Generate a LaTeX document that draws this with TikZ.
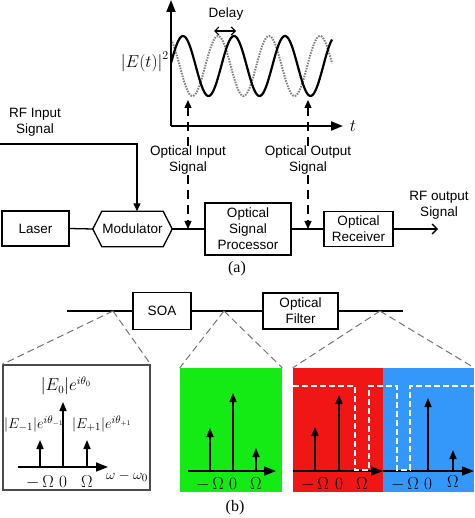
\documentclass[tikz,border=0pt]{standalone}
\usepackage{fontspec}
\usetikzlibrary{arrows.meta}
\newfontfamily\arialf{Liberation Sans}
\newfontfamily\timesf{Liberation Serif}
\definecolor{gfill}{RGB}{20,235,20}
\definecolor{rfill}{RGB}{240,22,22}
\definecolor{bfill}{RGB}{52,152,250}
\begin{document}
\begin{tikzpicture}[x=1pt,y=-1pt,
  lab/.style={font=\arialf\fontsize{13.5}{16}\selectfont, align=center, inner sep=0},
  blk/.style={draw, line width=1.3pt, align=center, inner sep=0, font=\arialf\fontsize{13.5}{16}\selectfont},
  wire/.style={line width=1.3pt},
  tipa/.style={-{Triangle[length=8pt,width=7pt]}},
  dsh/.style={line width=1.3pt, dash pattern=on 9pt off 6pt, -{Triangle[length=8pt,width=7pt]}},
  zoomln/.style={black!55, line width=1pt, dash pattern=on 7pt off 4pt},
  axisln/.style={line width=1.8pt, -{Triangle[length=12pt,width=9pt]}},
  spec/.style={line width=1.6pt, -{Triangle[length=9pt,width=7pt]}},
  mlab/.style={font=\fontsize{16}{18}\selectfont, inner sep=0},
  elab/.style={font=\fontsize{15}{17}\selectfont, inner sep=0},
  captxt/.style={font=\timesf\fontsize{16}{18}\selectfont, inner sep=0}]
\useasboundingbox (0,0) rectangle (474,518);

% ---------- (a) top graph ----------
\coordinate (org) at (171,126);
\coordinate (ytop) at (171,0);
\coordinate (xend) at (343,126);
\draw[black!50, line width=2pt, dash pattern=on 1.5pt off 1.2pt, domain=171:332, samples=160]
  plot (\x, {66-30*cos(7.0588*(\x-218))});
\draw[line width=2.2pt, domain=171:332, samples=160]
  plot (\x, {66-30*cos(7.0588*(\x-183))});
\draw[axisln] (org) -- (ytop);
\draw[axisln] (org) -- (xend);
\node[inner sep=0, font=\fontsize{16}{18}\selectfont] (tl) at (353,126) {$t$};
\node[inner sep=0, font=\fontsize{17}{19}\selectfont, anchor=east] (el) at (169,62) {$\left|E(t)\right|^2$};
\node[lab] (delay) at (226,14) {Delay};
\coordinate (d1) at (214,31);
\coordinate (d2) at (236,31);
\draw[line width=1.2pt, {Straight Barb[length=4pt,width=8pt]}-{Straight Barb[length=4pt,width=8pt]}] (d1) -- (d2);

% ---------- (a) block diagram ----------
\node[blk, minimum width=67pt, minimum height=35pt] (laser) at (35.5,228.5) {Laser};
\node[inner sep=0, minimum width=79pt, minimum height=35pt, font=\arialf\fontsize{13.5}{16}\selectfont] (mod) at (132.5,229) {Modulator};
\draw[line width=1.3pt] (mod.west) -- ([xshift=9pt]mod.north west) -- ([xshift=-9pt]mod.north east) -- (mod.east) -- ([xshift=-9pt]mod.south east) -- ([xshift=9pt]mod.south west) -- cycle;
\node[blk, minimum width=86pt, minimum height=52pt] (osp) at (248,229) {Optical\\Signal\\Processor};
\node[blk, minimum width=69pt, minimum height=35pt] (rec) at (358.5,229) {Optical\\Receiver};
\coordinate (rfout) at (438,229);
\coordinate (rfin) at (0,144);
\node[lab] (rfint) at (35,122) {RF Input\\Signal};
\node[lab] (rfoutt) at (439,205) {RF output\\Signal};
\node[lab] (oin) at (188,160) {Optical Input\\Signal};
\node[lab] (oout) at (308,160) {Optical Output\\Signal};
\coordinate (w1) at (188,100);
\coordinate (w2) at (308,100);

\draw[wire] (laser.east) -- (mod.west);
\draw[wire] (mod.east) -- (osp.west);
\draw[wire] (osp.east) -- (rec.west);
\draw[wire, -{Straight Barb[length=5pt,width=10pt]}] (rec.east) -- (rfout);
\draw[wire, tipa] (rfin) -| ([xshift=4.5pt]mod.north);
\draw[dsh] ([yshift=-1pt]oin.south) -- (oin.south |- mod.east);
\draw[dsh] ([yshift=-1pt]oout.south) -- (oout.south |- osp.east);
\draw[dsh] (oin.north) -- (w1);
\draw[dsh] (oout.north) -- (w2);
\node[captxt] (capa) at (237,269) {(a)};

% ---------- (b) ----------
\coordinate (bl) at (67,311);
\coordinate (br) at (403,311);
\node[blk, minimum width=58pt, minimum height=37pt] (soa) at (162,311) {SOA};
\node[blk, minimum width=75pt, minimum height=36pt] (filt) at (300.5,311) {Optical\\Filter};
\draw[wire] (bl) -- (soa.west);
\draw[wire] (soa.east) -- (filt.west);
\draw[wire] (filt.east) -- (br);
\coordinate (p1) at (113,311);
\coordinate (p2) at (224,311);
\coordinate (p3) at (380,311);

\node[draw=black!70, line width=1.3pt, minimum width=147pt, minimum height=125pt, inner sep=0] (lbox) at (76.5,427.5) {};
\node[fill=gfill, minimum width=102pt, minimum height=124pt, inner sep=0] (gbox) at (231,430) {};
\node[fill=rfill, minimum width=90pt, minimum height=124pt, inner sep=0] (rbox) at (338,430) {};
\node[fill=bfill, minimum width=91pt, minimum height=124pt, inner sep=0] (bbox) at (428.5,430) {};

\draw[zoomln] (p1) -- (lbox.north west);
\draw[zoomln] (p1) -- (lbox.north east);
\draw[zoomln] (p2) -- (gbox.north west);
\draw[zoomln] (p2) -- (gbox.north east);
\draw[zoomln] (p3) -- (rbox.north west);
\draw[zoomln] (p3) -- (bbox.north east);

% left spectrum
\draw[axisln, line width=1.6pt] (18,467) -- (108,467);
\draw[spec] (40,467) -- (40,440);
\draw[spec] (63,467) -- (63,402);
\draw[spec] (87,467) -- (87,440);
\node[mlab] (l1) at (40,482) {$-\,\Omega$};
\node[mlab] (l2) at (63,482) {$0$};
\node[mlab] (l3) at (87,482) {$\Omega$};
\node[elab, anchor=east] (l4) at (148,476) {$\omega-\omega_0$};
\node[mlab] (e0) at (66,386) {$\bigl|E_0\bigr|e^{i\theta_0}$};
\node[elab, anchor=west] (em) at (4,424) {$\bigl|E_{-1}\bigr|e^{i\theta_{-1}}$};
\node[elab, anchor=west] (ep) at (72,424) {$\bigl|E_{+1}\bigr|e^{i\theta_{+1}}$};

% green spectrum
\draw[axisln, line width=1.6pt] (188,471) -- (276,471);
\draw[spec] (210,471) -- (210,428);
\draw[spec] (233,471) -- (233,393);
\draw[spec] (256,471) -- (256,448);
\node[mlab] (g1) at (210,484) {$-\,\Omega$};
\node[mlab] (g2) at (233,484) {$0$};
\node[mlab] (g3) at (256,484) {$\Omega$};

% red / blue spectra
\draw[axisln, line width=1.6pt] (293,471) -- (383,471);
\draw[axisln, line width=1.6pt] (383,471) -- (474,471);
\draw[spec] (315,471) -- (315,427);
\draw[spec] (339,471) -- (339,395);
\draw[spec] (428,471) -- (428,398);
\draw[spec] (453,471) -- (453,450);
\node[mlab] (r1) at (315,484) {$-\,\Omega$};
\node[mlab] (r2) at (339,484) {$0$};
\node[mlab] (r3) at (362,484) {$\Omega$};
\node[mlab] (b1) at (405,484) {$-\,\Omega$};
\node[mlab] (b2) at (428,484) {$0$};
\node[mlab] (b3) at (453,482) {$\Omega$};
\draw[white, line width=1.4pt, dash pattern=on 6pt off 3pt]
  (293,386) -- (355,386) -- (355,470) -- (369,470) -- (369,386) -- (397,386) -- (397,470) -- (410,470) -- (410,386) -- (474,386);

\node[captxt] (capb) at (235,508) {(b)};
\end{tikzpicture}
\end{document}
